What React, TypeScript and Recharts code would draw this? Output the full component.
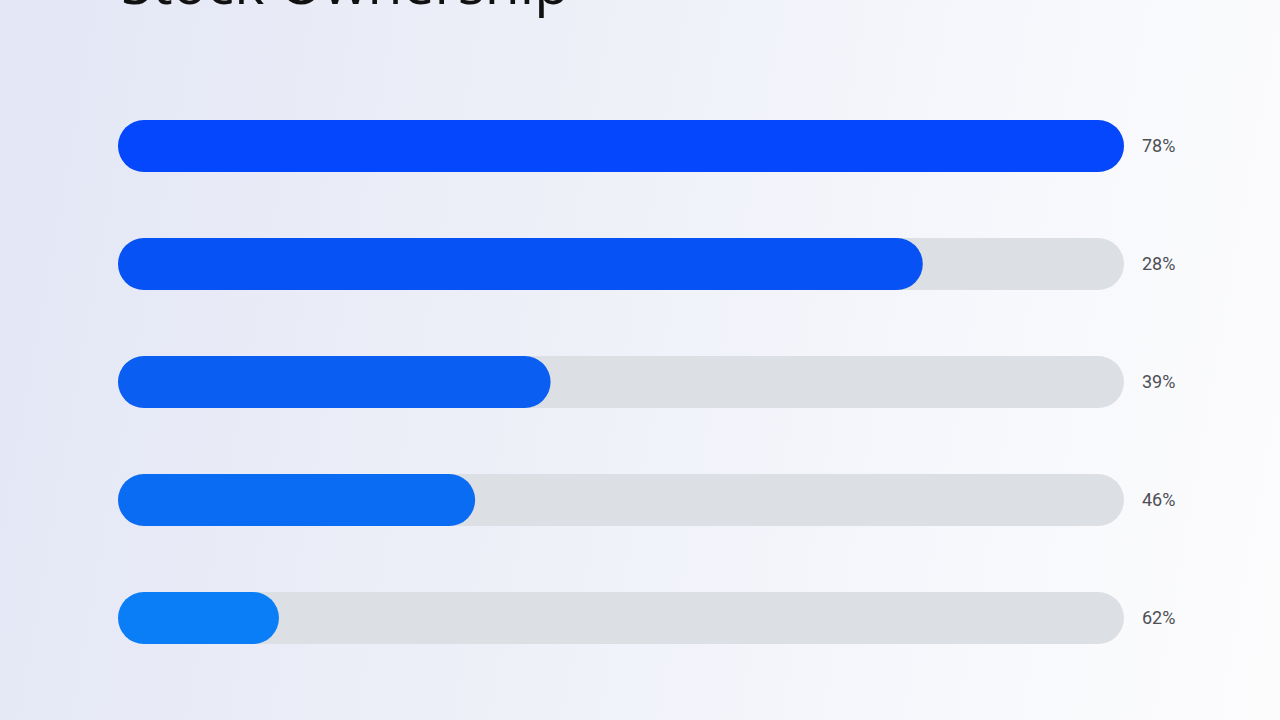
import React from "react";
import { BarChart, Bar, XAxis, YAxis, Cell } from "recharts";

const valueLabels = ["78%", "28%", "39%", "46%", "62%"];
const shares = [100, 80, 43, 35.5, 16];
const barColors = ["#0447fc", "#0652f5", "#0a5ef1", "#0a6cf2", "#0a7ef6"];

const data = valueLabels.map((label, i) => ({ label, share: shares[i] }));

export default function App() {
  return (
    <div
      style={{
        position: "fixed",
        left: 0,
        top: 0,
        width: 1280,
        height: 720,
        overflow: "hidden",
        background:
          "linear-gradient(100deg, #e3e6f5 0%, #edeff8 40%, #f7f8fc 75%, #fcfcfd 100%)",
      }}
    >
      <div
        style={{
          position: "absolute",
          left: 121,
          top: -51,
          fontFamily: "'Open Sans', sans-serif",
          fontWeight: 500,
          fontSize: 57,
          lineHeight: "66px",
          color: "#111",
          whiteSpace: "nowrap",
        }}
      >
        Stock Ownership
      </div>
      <BarChart
        width={1280}
        height={720}
        data={data}
        layout="vertical"
        margin={{ top: 87, right: 0, bottom: 43, left: 118 }}
        barSize={52}
      >
        <XAxis type="number" domain={[0, 100]} hide />
        <YAxis
          type="category"
          dataKey="label"
          orientation="right"
          width={156}
          axisLine={false}
          tickLine={false}
          tickSize={0}
          tickMargin={18}
          tick={{
            fill: "#4d4f55",
            fontSize: 18,
            fontFamily: "'Roboto', sans-serif",
            textAnchor: "start",
          }}
        />
        <Bar
          dataKey="share"
          radius={26}
          background={{ fill: "#dcdfe4", radius: 26 }}
          isAnimationActive={false}
        >
          {data.map((d, i) => (
            <Cell key={d.label} fill={barColors[i]} />
          ))}
        </Bar>
      </BarChart>
    </div>
  );
}
